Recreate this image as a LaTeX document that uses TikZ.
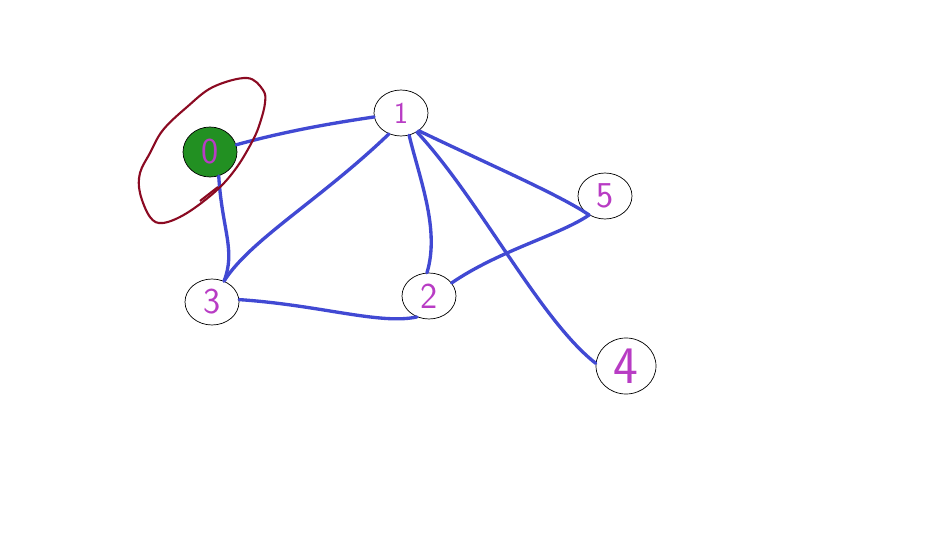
\documentclass[tikz,border=0pt]{standalone}
\usetikzlibrary{shapes.geometric}
\definecolor{edgeblue}{HTML}{4149D3}
\definecolor{labelpink}{HTML}{B83CC4}
\definecolor{nodegreen}{HTML}{229022}
\definecolor{loopred}{HTML}{8B0A22}

\begin{document}
\begin{tikzpicture}[
  x=0.02cm, y=-0.02cm,
  vtx/.style={draw, ellipse, thin, minimum width=1.08cm, minimum height=0.92cm, inner sep=0pt, text=labelpink, font=\sffamily\huge},
  edge/.style={draw=edgeblue, line width=1.9pt, line cap=round}
]
  \useasboundingbox (0,0) rectangle (946,550);

  \node[vtx, fill=nodegreen, minimum height=1.0cm] (n0) at (210,152) {0};
  \node[vtx, font=\sffamily\LARGE] (n1) at (401,113) {1};
  \node[vtx] (n5) at (605,196) {5};
  \node[vtx] (n2) at (429,296) {2};
  \node[vtx] (n3) at (212,302) {3};
  \node[vtx, minimum width=1.2cm, minimum height=1.12cm, font=\sffamily\fontsize{30}{30}\selectfont] (n4) at (626,366) {4};

  % hand drawn edges
  \draw[edge] (n0) .. controls (290,130) and (340,122) .. (n1);
  \draw[edge] (n0.-70) .. controls (222,230) and (236,250) .. (n3.60);
  \draw[edge] (n1.-120) .. controls (320,200) and (250,240) .. (n3.60);
  \draw[edge] (n1.-70) .. controls (420,180) and (440,230) .. (n2.95);
  \draw[edge] (n1.-45) .. controls (490,165) and (560,195) .. (n5.-130);
  \draw[edge] (n1.-50) .. controls (480,200) and (540,320) .. (n4.175);
  \draw[edge] (n2.30) .. controls (500,250) and (560,235) .. (n5.-130);
  \draw[edge] (n3.5) .. controls (320,305) and (380,325) .. (n2.-120);

  % circled start vertex
  \draw[loopred, line width=1.2pt] plot[smooth cycle, tension=0.6] coordinates {
    (247,78) (263,90) (265,103) (260,123) (253,140) (237,167) (217,190)
    (187,213) (163,223) (150,217) (140,193) (140,173) (150,153) (163,130)
    (187,107) (213,87)};
  \draw[loopred, line width=1.2pt] (200,201) -- (218,187);
\end{tikzpicture}
\end{document}
